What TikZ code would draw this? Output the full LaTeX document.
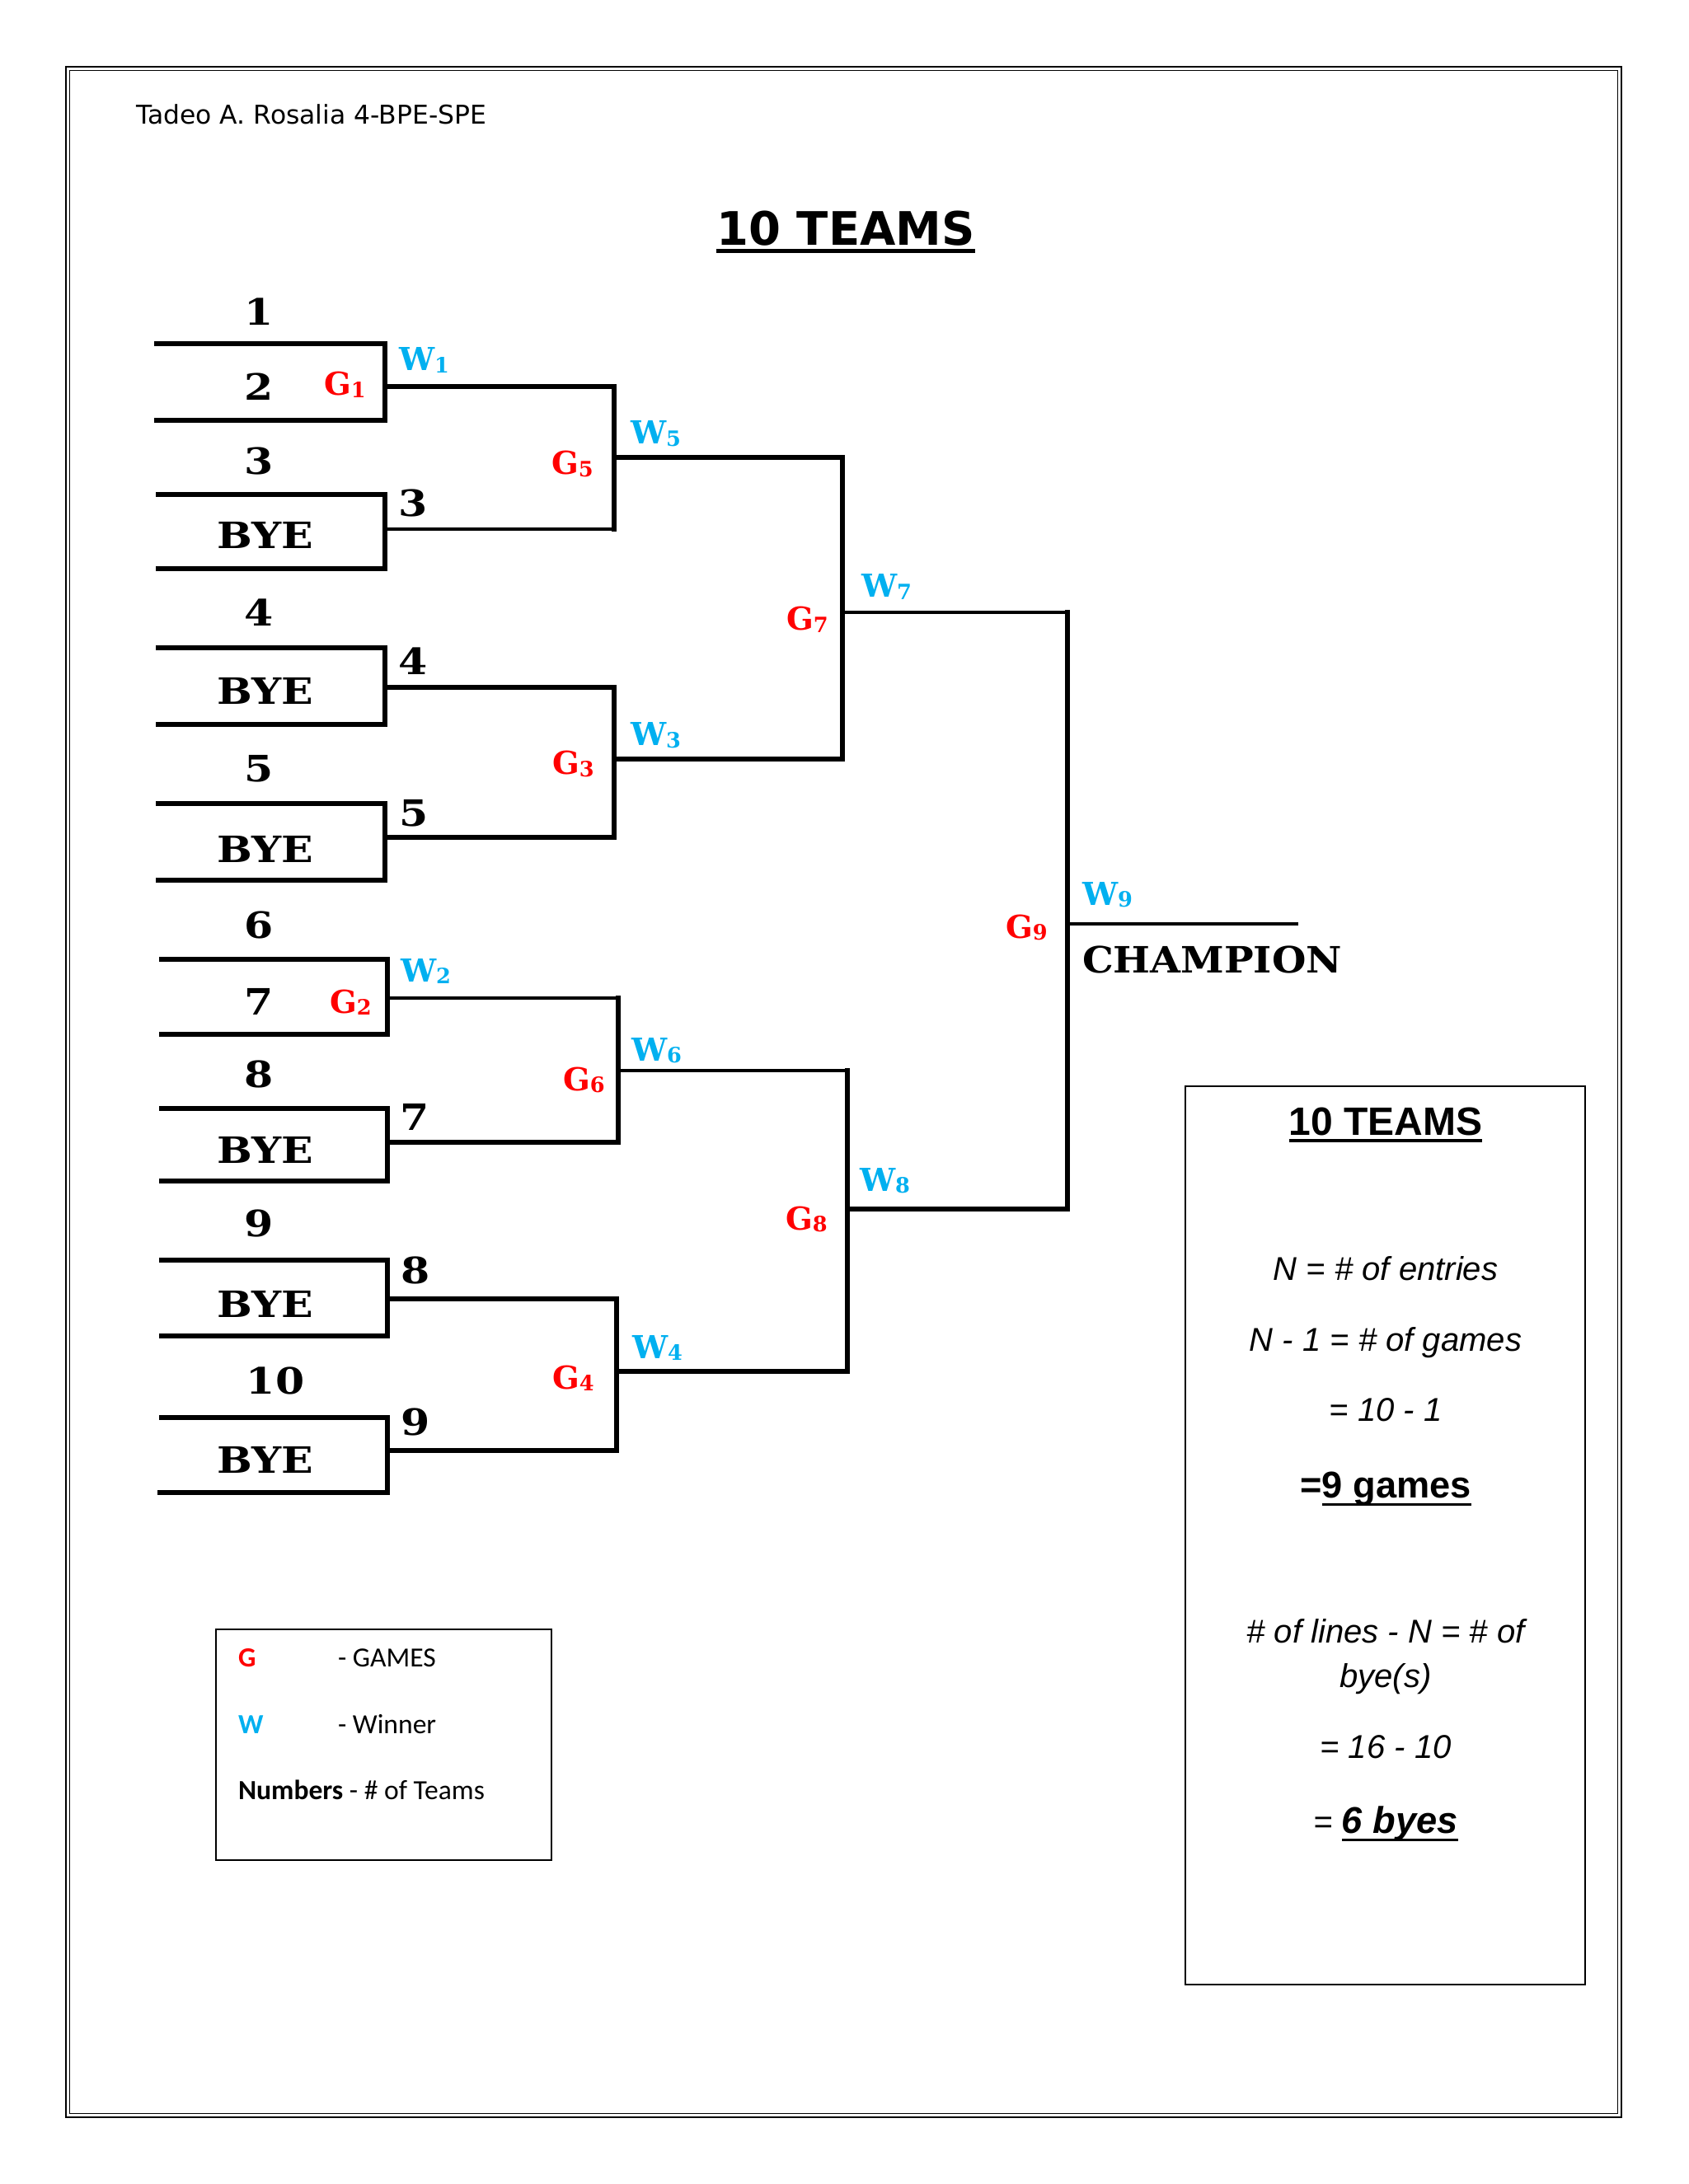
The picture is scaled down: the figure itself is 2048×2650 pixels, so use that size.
\documentclass[tikz,border=0pt]{standalone}
\usepackage{fontspec}
\setmainfont{DejaVu Serif}
\newfontfamily\hdrfont{DejaVu Sans}
\newfontfamily\brfont[FakeStretch=1.15]{DejaVu Serif}
\newfontfamily\chfont[FakeStretch=1.08]{DejaVu Serif}
\newfontfamily\lblfont{DejaVu Serif}
\newfontfamily\legfont{Carlito}
\newfontfamily\boxfont{Liberation Sans}
\definecolor{gred}{HTML}{FF0000}
\definecolor{wblue}{HTML}{00B0F0}
\newcommand{\ulin}[3]{{\setbox0=\hbox{#3}\rlap{\rule[#1]{\wd0}{#2}}\box0}}
\newcommand{\sbx}[1]{\raisebox{-0.6pt}{\fontsize{6.4pt}{7pt}\selectfont #1}}
\tikzset{
  every node/.style={inner sep=0pt, outer sep=0pt},
  hdr/.style={font=\hdrfont\fontsize{7.85pt}{9pt}\selectfont, anchor=base west},
  ttl/.style={font=\hdrfont\bfseries\fontsize{14pt}{16pt}\selectfont, anchor=base},
  team/.style={font=\brfont\bfseries\fontsize{11pt}{13pt}\selectfont, anchor=base},
  outl/.style={font=\brfont\bfseries\fontsize{11pt}{13pt}\selectfont, anchor=base west},
  chmp/.style={font=\chfont\bfseries\fontsize{11pt}{13pt}\selectfont, anchor=base west},
  glab/.style={font=\lblfont\bfseries\fontsize{9.6pt}{11pt}\selectfont, text=gred, anchor=base west},
  wlab/.style={font=\lblfont\bfseries\fontsize{9.6pt}{11pt}\selectfont, text=wblue, anchor=base west},
  brk/.style={line width=1.35pt, line join=miter, line cap=rect},
  brkthin/.style={line width=1.0pt, line join=miter, line cap=rect},
  leg/.style={font=\legfont\fontsize{8.4pt}{10pt}\selectfont, anchor=base west},
  bx/.style={font=\boxfont\itshape\fontsize{10pt}{12pt}\selectfont, anchor=base},
  bxb/.style={font=\boxfont\bfseries\fontsize{11.3pt}{13pt}\selectfont, anchor=base}
}
\begin{document}
\begin{tikzpicture}[x=0.25pt, y=-0.25pt]
\useasboundingbox (0,0) rectangle (2048,2650);
\fill[white] (0,0) rectangle (2048,2650);
% page border (double line)
\draw[line width=0.6pt] (80,81) rectangle (1967,2569);
\draw[line width=0.4pt] (84.5,85.5) rectangle (1962.5,2564.5);

\node[hdr] (hdr) at (165,151) {Tadeo A. Rosalia 4-BPE-SPE};
\node[ttl] (ttl) at (1026,298) {\ulin{-2.25pt}{1.25pt}{10 TEAMS}};

% ---------- coordinates: first round ----------
\coordinate (a1) at (190,417);  \coordinate (a1r) at (467,417);
\coordinate (a2) at (190,510);  \coordinate (a2r) at (467,510);
\coordinate (a3) at (192,600);  \coordinate (a3r) at (467,600);
\coordinate (a4) at (192,690);  \coordinate (a4r) at (467,690);
\coordinate (a5) at (192,786);  \coordinate (a5r) at (467,786);
\coordinate (a6) at (192,879);  \coordinate (a6r) at (467,879);
\coordinate (a7) at (192,975);  \coordinate (a7r) at (467,975);
\coordinate (a8) at (192,1068); \coordinate (a8r) at (467,1068);
\coordinate (a9) at (196,1164); \coordinate (a9r) at (470,1164);
\coordinate (a10) at (196,1255); \coordinate (a10r) at (470,1255);
\coordinate (a11) at (196,1345); \coordinate (a11r) at (470,1345);
\coordinate (a12) at (196,1433); \coordinate (a12r) at (470,1433);
\coordinate (a13) at (196,1529); \coordinate (a13r) at (470,1529);
\coordinate (a14) at (196,1621); \coordinate (a14r) at (470,1621);
\coordinate (a15) at (196,1720); \coordinate (a15r) at (470,1720);
\coordinate (a16) at (194,1811); \coordinate (a16r) at (470,1811);
% outputs of first round
\coordinate (o1) at (467,469);  \coordinate (o2) at (467,642);
\coordinate (o3) at (467,834);  \coordinate (o4) at (467,1016);
\coordinate (o5) at (470,1211); \coordinate (o6) at (470,1386);
\coordinate (o7) at (470,1576); \coordinate (o8) at (470,1760);
% second round
\coordinate (g5t) at (745,469);  \coordinate (g5b) at (745,642);  \coordinate (w5) at (745,555);
\coordinate (g3t) at (745,834);  \coordinate (g3b) at (745,1016); \coordinate (w3) at (745,921);
\coordinate (g6t) at (750,1211); \coordinate (g6b) at (750,1386); \coordinate (w6) at (750,1299);
\coordinate (g4t) at (748,1576); \coordinate (g4b) at (748,1760); \coordinate (w4) at (748,1664);
% third round
\coordinate (g7t) at (1022,555);  \coordinate (g7b) at (1022,921);  \coordinate (w7) at (1022,743);
\coordinate (g8t) at (1028,1299); \coordinate (g8b) at (1028,1664); \coordinate (w8) at (1028,1467);
% final
\coordinate (g9t) at (1295,743); \coordinate (g9b) at (1295,1467); \coordinate (w9) at (1295,1121);
\coordinate (champ) at (1573,1121);

% ---------- bracket lines ----------
\draw[brk] (a1) -- (a1r) -- (a2r) -- (a2);
\draw[brk] (a3) -- (a3r) -- (a4r) -- (a4);
\draw[brk] (a5) -- (a5r) -- (a6r) -- (a6);
\draw[brk] (a7) -- (a7r) -- (a8r) -- (a8);
\draw[brk] (a9) -- (a9r) -- (a10r) -- (a10);
\draw[brk] (a11) -- (a11r) -- (a12r) -- (a12);
\draw[brk] (a13) -- (a13r) -- (a14r) -- (a14);
\draw[brk] (a15) -- (a15r) -- (a16r) -- (a16);

\draw[brk] (o1) -- (g5t) -- (g5b);
\draw[brkthin] (g5b) -- (o2);
\draw[brk] (o3) -- (g3t) -- (g3b) -- (o4);
\draw[brkthin] (o5) -- (g6t);
\draw[brk] (g6t) -- (g6b) -- (o6);
\draw[brk] (o7) -- (g4t) -- (g4b) -- (o8);

\draw[brk] (w5) -- (g7t) -- (g7b) -- (w3);
\draw[brkthin] (w6) -- (g8t);
\draw[brk] (g8t) -- (g8b) -- (w4);

\draw[brkthin] (w7) -- (g9t);
\draw[brk] (g9t) -- (g9b) -- (w8);
\draw[brkthin] (w9) -- (champ);

% ---------- team labels ----------
\node[team] (n1) at (314,395) {1};
\node[team] (n2) at (314,486) {2};
\node[team] (n3) at (314,576) {3};
\node[team] (bye1) at (322,666) {BYE};
\node[team] (n4) at (314,760) {4};
\node[team] (bye2) at (322,855) {BYE};
\node[team] (n5) at (314,948) {5};
\node[team] (bye3) at (322,1047) {BYE};
\node[team] (n6) at (314,1138) {6};
\node[team] (n7) at (314,1231) {7};
\node[team] (n8) at (314,1319) {8};
\node[team] (bye4) at (322,1411) {BYE};
\node[team] (n9) at (314,1500) {9};
\node[team] (bye5) at (322,1598) {BYE};
\node[team] (n10) at (334,1691) {10};
\node[team] (bye6) at (322,1787) {BYE};

% advancing numbers
\node[outl] (p3) at (483,627) {3};
\node[outl] (p4) at (483,819) {4};
\node[outl] (p5) at (484,1003) {5};
\node[outl] (p7) at (485,1371) {7};
\node[outl] (p8) at (486,1557) {8};
\node[outl] (p9) at (486,1741) {9};

% games
\node[glab] (G1) at (393,480) {G\sbx{1}};
\node[glab] (G5) at (669,576) {G\sbx{5}};
\node[glab] (G3) at (670,940) {G\sbx{3}};
\node[glab] (G7) at (954,765) {G\sbx{7}};
\node[glab] (G2) at (400,1229) {G\sbx{2}};
\node[glab] (G6) at (683,1323) {G\sbx{6}};
\node[glab] (G4) at (670,1685) {G\sbx{4}};
\node[glab] (G8) at (953,1492) {G\sbx{8}};
\node[glab] (G9) at (1220,1138) {G\sbx{9}};
% winners
\node[wlab] (W1) at (484,450) {W\sbx{1}};
\node[wlab] (W5) at (765,539) {W\sbx{5}};
\node[wlab] (W3) at (765,905) {W\sbx{3}};
\node[wlab] (W7) at (1045,725) {W\sbx{7}};
\node[wlab] (W2) at (486,1191) {W\sbx{2}};
\node[wlab] (W6) at (766,1287) {W\sbx{6}};
\node[wlab] (W4) at (767,1648) {W\sbx{4}};
\node[wlab] (W8) at (1043,1445) {W\sbx{8}};
\node[wlab] (W9) at (1313,1098) {W\sbx{9}};
\node[chmp] (CH) at (1313,1180) {CHAMPION};

% ---------- legend ----------
\draw[line width=0.6pt] (262,1977) rectangle (669,2257);
\node[leg, text=gred] (lg) at (289,2022) {\bfseries G};
\node[leg] (lgt) at (410,2022) {- GAMES};
\node[leg, text=wblue] (lw) at (289,2103) {\bfseries W};
\node[leg] (lwt) at (410,2103) {- Winner};
\node[leg] (ln) at (289,2183) {\textbf{Numbers} - \# of Teams};

% ---------- formula box ----------
\draw[line width=0.6pt] (1438,1318) rectangle (1923,2408);
\node[bxb, font=\boxfont\bfseries\fontsize{12pt}{14pt}\selectfont] (bt) at (1681,1377) {\ulin{-2.3pt}{1pt}{10 TEAMS}};
\node[bx] (f1) at (1681,1553) {N = \# of entries};
\node[bx] (f2) at (1681,1639) {N - 1 = \# of games};
\node[bx] (f3) at (1681,1724) {= 10 - 1};
\node[bxb] (f4) at (1681,1817) {=\ulin{-2.5pt}{0.85pt}{9 games}};
\node[bx] (f5) at (1681,1993) {\# of lines - N = \# of};
\node[bx] (f6) at (1681,2047) {bye(s)};
\node[bx] (f7) at (1681,2133) {= 16 - 10};
\node[bx] (f8) at (1681,2224) {= \ulin{-2.5pt}{0.85pt}{\bfseries\fontsize{11.3pt}{13pt}\selectfont 6 byes}};
\end{tikzpicture}
\end{document}
